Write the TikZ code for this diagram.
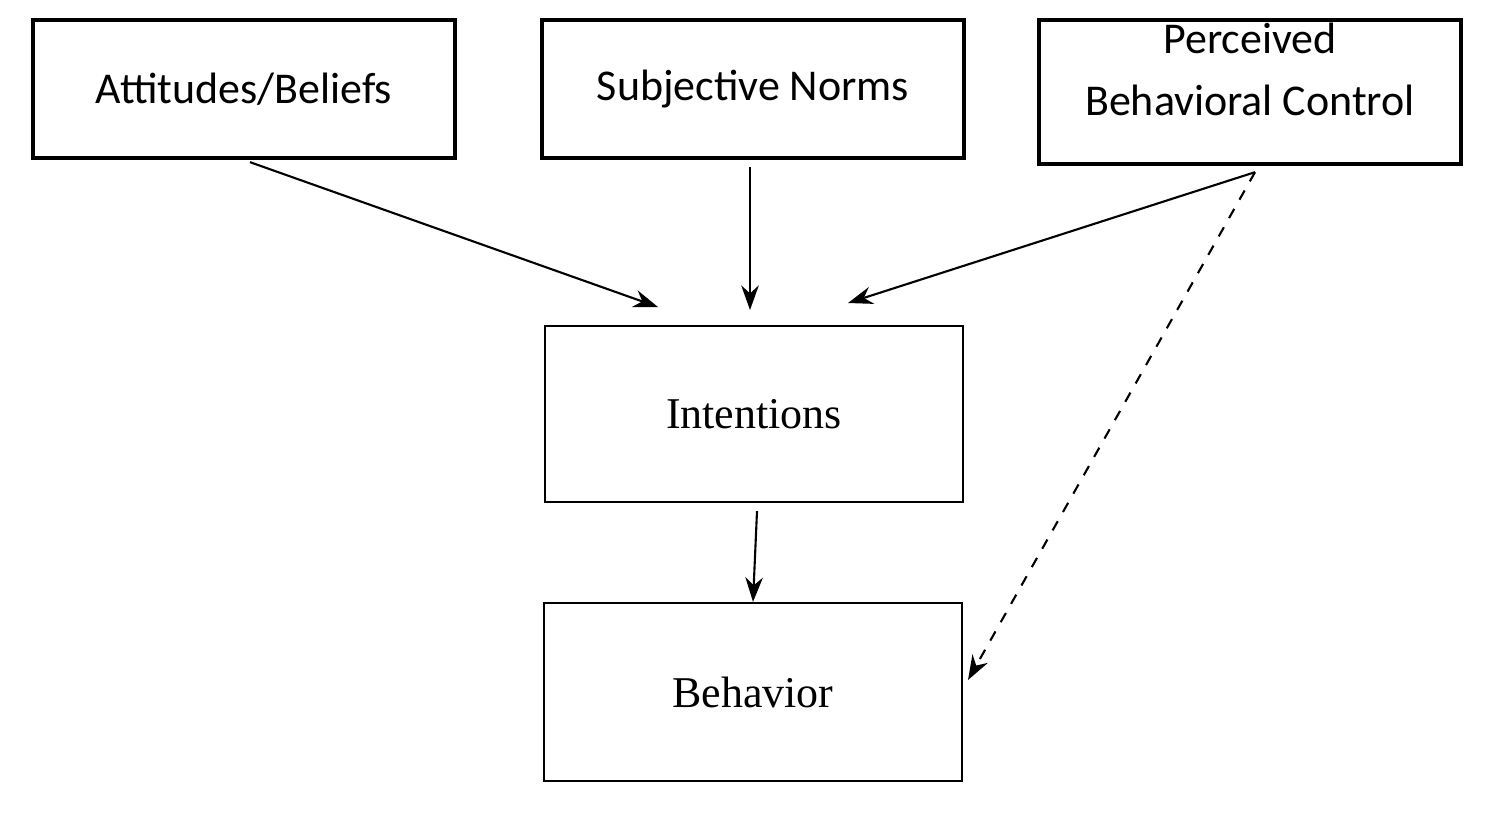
\documentclass[tikz,border=0pt]{standalone}
\usepackage{fontspec}
\setmainfont{Liberation Serif}
\newfontfamily\boxsans{Carlito}
\usetikzlibrary{arrows.meta}
\tikzset{
  topbox/.style={draw, line width=1.2pt, minimum width=4.22cm, minimum height=1.38cm, font=\boxsans\fontsize{12.5}{17.6}\selectfont},
  lowbox/.style={draw, line width=0.6pt, minimum width=4.18cm, minimum height=1.76cm, font=\fontsize{12.5}{15}\selectfont},
  link/.style={-{Stealth[length=7pt,width=5pt]}, line width=0.6pt}
}
\begin{document}
\begin{tikzpicture}[x=0.01cm,y=-0.01cm]
  \useasboundingbox (0,0) rectangle (1489,827);
  \node[topbox] (att) at (244,89) {Attitudes/Beliefs};
  \node[topbox] (norm) at (753,89) {Subjective Norms};
  \node[topbox, minimum height=1.44cm] (pbc) at (1250,92) {};
  \node[font=\boxsans\fontsize{12.5}{17.6}\selectfont, align=center] (pbctext) at (1250,69) {Perceived\\Behavioral Control};
  \node[lowbox] (int) at (754,414) {Intentions};
  \node[lowbox, minimum height=1.78cm] (beh) at (753,692) {Behavior};
  % connectors
  \coordinate (intL) at (658,307);
  \coordinate (intM) at (750,310);
  \coordinate (intR) at (848,303);
  \coordinate (behR) at (968,680);
  \draw[link] (att.south) ++(6,2) -- (intL);
  \draw[link] (norm.south) ++(-3,7) -- (intM);
  \draw[link] (pbc.south) ++(5,6) -- (intR);
  \draw[link] (int.south) ++(3,8) -- (beh.north);
  \draw[link, dashed] (pbc.south) ++(5,6) -- (behR);
\end{tikzpicture}
\end{document}
